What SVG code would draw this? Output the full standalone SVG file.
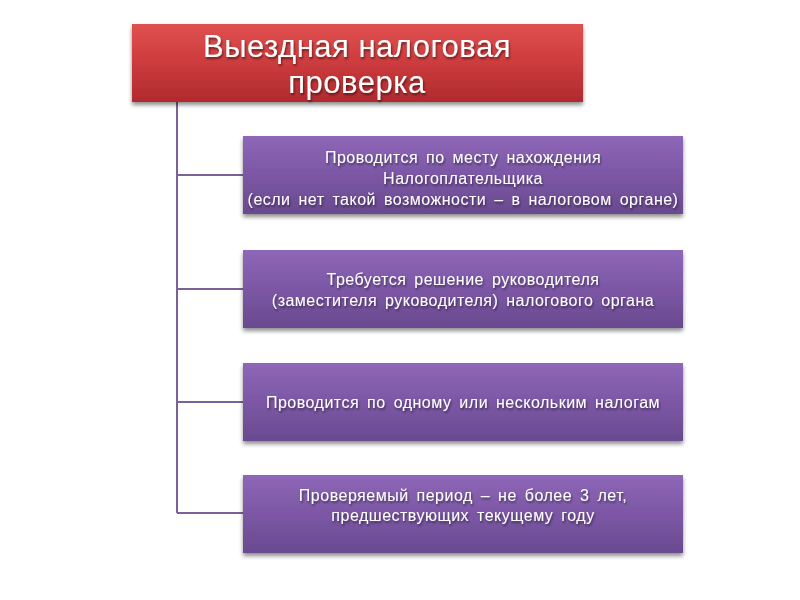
<svg xmlns="http://www.w3.org/2000/svg" width="800" height="600" viewBox="0 0 800 600">
<defs>
<linearGradient id="gRed" x1="0" y1="0" x2="0" y2="1">
<stop offset="0" stop-color="#e0514f"/>
<stop offset="0.5" stop-color="#cc3b3d"/>
<stop offset="1" stop-color="#b02a2e"/>
</linearGradient>
<linearGradient id="gPur" x1="0" y1="0" x2="0" y2="1">
<stop offset="0" stop-color="#8e67b8"/>
<stop offset="0.5" stop-color="#7c57a5"/>
<stop offset="1" stop-color="#694a8f"/>
</linearGradient>
<filter id="sh" x="-5%" y="-10%" width="110%" height="130%">
<feGaussianBlur in="SourceAlpha" stdDeviation="2"/>
<feOffset dx="0" dy="3"/>
<feComponentTransfer><feFuncA type="linear" slope="0.45"/></feComponentTransfer>
<feMerge><feMergeNode/><feMergeNode in="SourceGraphic"/></feMerge>
</filter>
<filter id="tsh" x="-5%" y="-20%" width="110%" height="150%">
<feGaussianBlur in="SourceAlpha" stdDeviation="0.8"/>
<feOffset dx="1" dy="1.5"/>
<feComponentTransfer><feFuncA type="linear" slope="0.5"/></feComponentTransfer>
<feMerge><feMergeNode/><feMergeNode in="SourceGraphic"/></feMerge>
</filter>
</defs>
<style>
.box{filter:url(#sh);}
.t{font-family:"Liberation Sans",Arial,sans-serif;fill:#ffffff;text-anchor:middle;filter:url(#tsh);}
.big{font-size:31px;letter-spacing:0.5px;}
.sm{font-size:16px;letter-spacing:0.5px;word-spacing:3px;}
.ln{stroke:#7b6198;stroke-width:2;fill:none;}
</style>
<rect width="800" height="600" fill="#ffffff"/>
<g id="connectors">
<path class="ln" d="M177 102 V513 M177 175 H243 M177 289 H243 M177 402 H243 M177 513 H243"/>
</g>
<g id="root">
<rect class="box" x="132" y="24" width="451" height="78" fill="url(#gRed)"/>
<text class="t big" x="357" y="57">Выездная налоговая</text>
<text class="t big" x="357" y="93">проверка</text>
</g>
<g id="n1">
<rect class="box" x="243" y="136" width="440" height="78" fill="url(#gPur)"/>
<text class="t sm" x="463" y="163">Проводится по месту нахождения</text>
<text class="t sm" x="463" y="184">Налогоплательщика</text>
<text class="t sm" x="463" y="205">(если нет такой возможности – в налоговом органе)</text>
</g>
<g id="n2">
<rect class="box" x="243" y="250" width="440" height="78" fill="url(#gPur)"/>
<text class="t sm" x="463" y="285">Требуется решение руководителя</text>
<text class="t sm" x="463" y="306">(заместителя руководителя) налогового органа</text>
</g>
<g id="n3">
<rect class="box" x="243" y="363" width="440" height="78" fill="url(#gPur)"/>
<text class="t sm" x="463" y="408">Проводится по одному или нескольким налогам</text>
</g>
<g id="n4">
<rect class="box" x="243" y="475" width="440" height="78" fill="url(#gPur)"/>
<text class="t sm" x="463" y="501">Проверяемый период – не более 3 лет,</text>
<text class="t sm" x="463" y="521">предшествующих текущему году</text>
</g>
</svg>
